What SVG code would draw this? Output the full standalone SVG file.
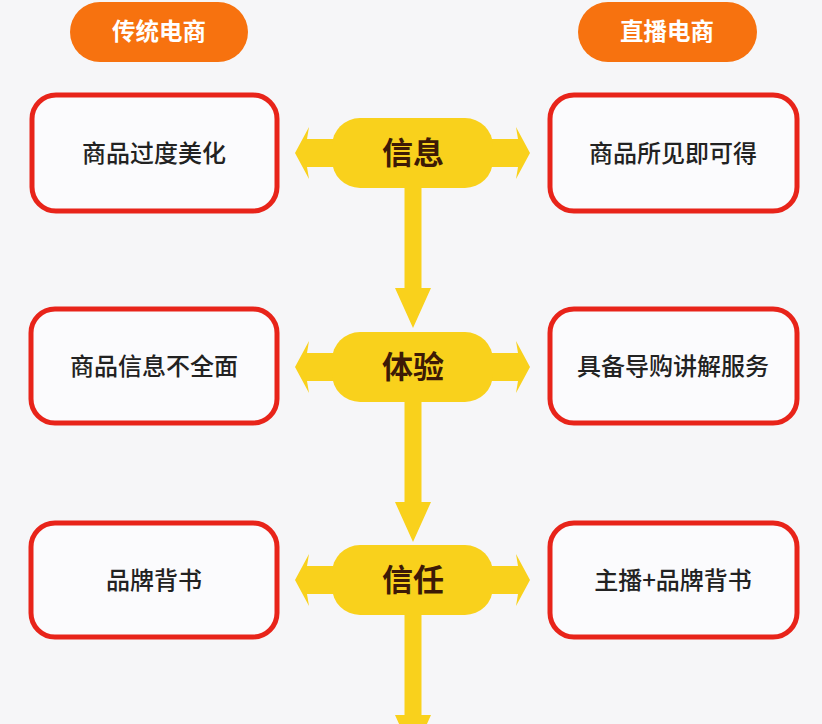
<svg xmlns="http://www.w3.org/2000/svg" width="822" height="724" viewBox="0 0 822 724">
<defs>
<style>
.hdr{fill:#f7720f}
.hdrt{font-family:"Noto Sans CJK SC","Noto Sans",sans-serif;font-size:23.5px;font-weight:700;fill:#ffffff;text-anchor:middle}
.box{fill:#fbfbfd;stroke:#e8241a;stroke-width:5}
.boxt{font-family:"Noto Sans CJK SC","Noto Sans",sans-serif;font-size:24px;font-weight:500;fill:#222222;text-anchor:middle}
.yel{fill:#f9d11c}
.pt{font-family:"Noto Sans CJK SC","Noto Sans",sans-serif;font-size:31px;font-weight:700;fill:#3d1a06;text-anchor:middle}
</style>
</defs>
<rect width="822" height="724" fill="#f6f6f8"/>
<g id="header-left"><rect class="hdr" x="70" y="2" width="178" height="60" rx="30"/><text class="hdrt" x="159" y="40">传统电商</text></g>
<g id="header-right"><rect class="hdr" x="578" y="2" width="179" height="60" rx="30"/><text class="hdrt" x="667" y="40">直播电商</text></g>
<g id="connectors">
<path class="yel" d="M404.5 188H421.5V288H431L413 328L395 288H404.5Z"/>
<path class="yel" d="M404.5 402H421.5V502H431L413 542L395 502H404.5Z"/>
<path class="yel" d="M404.5 615H421.5V715H431L413 755L395 715H404.5Z"/>
<path class="yel" d="M340 139H307L309 127L295 153L309 179L307 167H340Z"/>
<path class="yel" d="M485 139H518L516 127L530 153L516 179L518 167H485Z"/>
<path class="yel" d="M340 353H307L309 341L295 367L309 393L307 381H340Z"/>
<path class="yel" d="M485 353H518L516 341L530 367L516 393L518 381H485Z"/>
<path class="yel" d="M340 566H307L309 554L295 580L309 606L307 594H340Z"/>
<path class="yel" d="M485 566H518L516 554L530 580L516 606L518 594H485Z"/>
</g>
<g id="hub-info"><rect class="yel" x="332" y="118" width="161" height="70" rx="28"/><text class="pt" x="413" y="164">信息</text></g>
<g id="hub-experience"><rect class="yel" x="332" y="332" width="161" height="70" rx="28"/><text class="pt" x="413" y="378">体验</text></g>
<g id="hub-trust"><rect class="yel" x="332" y="545" width="161" height="70" rx="28"/><text class="pt" x="413" y="591">信任</text></g>
<g id="left-1"><rect class="box" x="32" y="95" width="245" height="116" rx="24"/><text class="boxt" x="154" y="162">商品过度美化</text></g>
<g id="left-2"><rect class="box" x="31" y="309" width="246" height="114" rx="24"/><text class="boxt" x="154" y="375">商品信息不全面</text></g>
<g id="left-3"><rect class="box" x="31" y="523" width="246" height="114" rx="24"/><text class="boxt" x="154" y="589">品牌背书</text></g>
<g id="right-1"><rect class="box" x="550" y="95" width="247" height="116" rx="24"/><text class="boxt" x="673" y="162">商品所见即可得</text></g>
<g id="right-2"><rect class="box" x="550" y="309" width="247" height="114" rx="24"/><text class="boxt" x="673" y="375">具备导购讲解服务</text></g>
<g id="right-3"><rect class="box" x="550" y="523" width="247" height="114" rx="24"/><text class="boxt" x="673" y="589">主播+品牌背书</text></g>
</svg>
